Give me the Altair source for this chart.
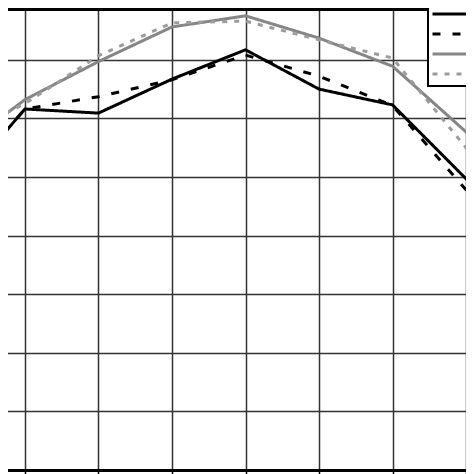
import altair as alt
import pandas as pd

# x positions (grid columns) and series values (in grid units)
x_vals = [0, 1, 2, 3, 4, 5, 6, 7, 8]
series_names = ["NS measured", "EW measured", "NS model", "V model"]
ns_meas = [4.71, 6.16, 6.09, 6.67, 7.17, 6.50, 6.23, 4.97, 3.55]
ew_meas = [4.71, 6.16, 6.37, 6.66, 7.08, 6.72, 6.22, 4.78, 3.33]
ns_model = [5.38, 6.32, 6.97, 7.56, 7.75, 7.37, 6.89, 5.77, 4.04]
v_model = [5.65, 6.25, 7.07, 7.63, 7.66, 7.34, 7.03, 5.50, 3.62]
grid_x = [1, 2, 3, 4, 5, 6, 7]
grid_y = [1, 2, 3, 4, 5, 6, 7]
colors = ["#000000", "#000000", "#868686", "#9c9c9c"]
dashes = [[1, 0], [8, 12], [1, 0], [5, 7]]

rows = []
for name, vals in zip(series_names, [ns_meas, ew_meas, ns_model, v_model]):
    for xv, yv in zip(x_vals, vals):
        rows.append({"x": xv, "y": yv, "series": name})
df = pd.DataFrame(rows)

xscale = alt.Scale(domain=[0.6599, 7.1088], nice=False, zero=False)
yscale = alt.Scale(domain=[0, 8.02], nice=False, zero=False)

leg = alt.Legend(
    orient="none", legendX=428, legendY=2, title=None,
    symbolType="stroke", symbolSize=1225, symbolStrokeWidth=3,
    labelFont="Liberation Sans", labelFontSize=12, labelColor="black",
    labelOffset=4, padding=3, rowPadding=2, clipHeight=18,
    strokeColor="black", fillColor="white",
)

lines = alt.Chart(df).mark_line(clip=True, strokeWidth=3).encode(
    x=alt.X("x:Q", scale=xscale, axis=alt.Axis(
        values=grid_x, grid=True, labels=False, title=None, ticks=True,
        tickSize=6, tickColor="black", tickWidth=1.5, domain=True,
        domainColor="black", domainWidth=3, gridColor="#333333",
        gridWidth=1.5, gridOpacity=1)),
    y=alt.Y("y:Q", scale=yscale, axis=alt.Axis(
        values=grid_y, grid=True, labels=False, ticks=False, domain=False,
        title=None, gridColor="#333333", gridWidth=1.5, gridOpacity=1)),
    color=alt.Color("series:N", scale=alt.Scale(domain=series_names, range=colors), legend=leg),
    strokeDash=alt.StrokeDash("series:N", scale=alt.Scale(domain=series_names, range=dashes), legend=leg),
)

top = alt.Chart(df).mark_point(opacity=0, clip=True).encode(
    x=alt.X("x:Q", scale=xscale, axis=alt.Axis(
        orient="top", offset=-9, domain=True, domainColor="black", domainWidth=3,
        ticks=False, labels=False, grid=False, title=None)),
    y=alt.Y("y:Q", scale=yscale, axis=None),
)

chart = alt.layer(lines, top).resolve_axis(x="independent", y="independent").properties(
    width=474, height=470,
    autosize=alt.AutoSizeParams(type="none"),
    padding={"left": -8, "top": -8, "right": -8, "bottom": 4},
).configure_view(stroke=None).configure_legend(strokeWidth=2)

chart.save("out.html", embed_options={"renderer": "svg", "actions": False})
